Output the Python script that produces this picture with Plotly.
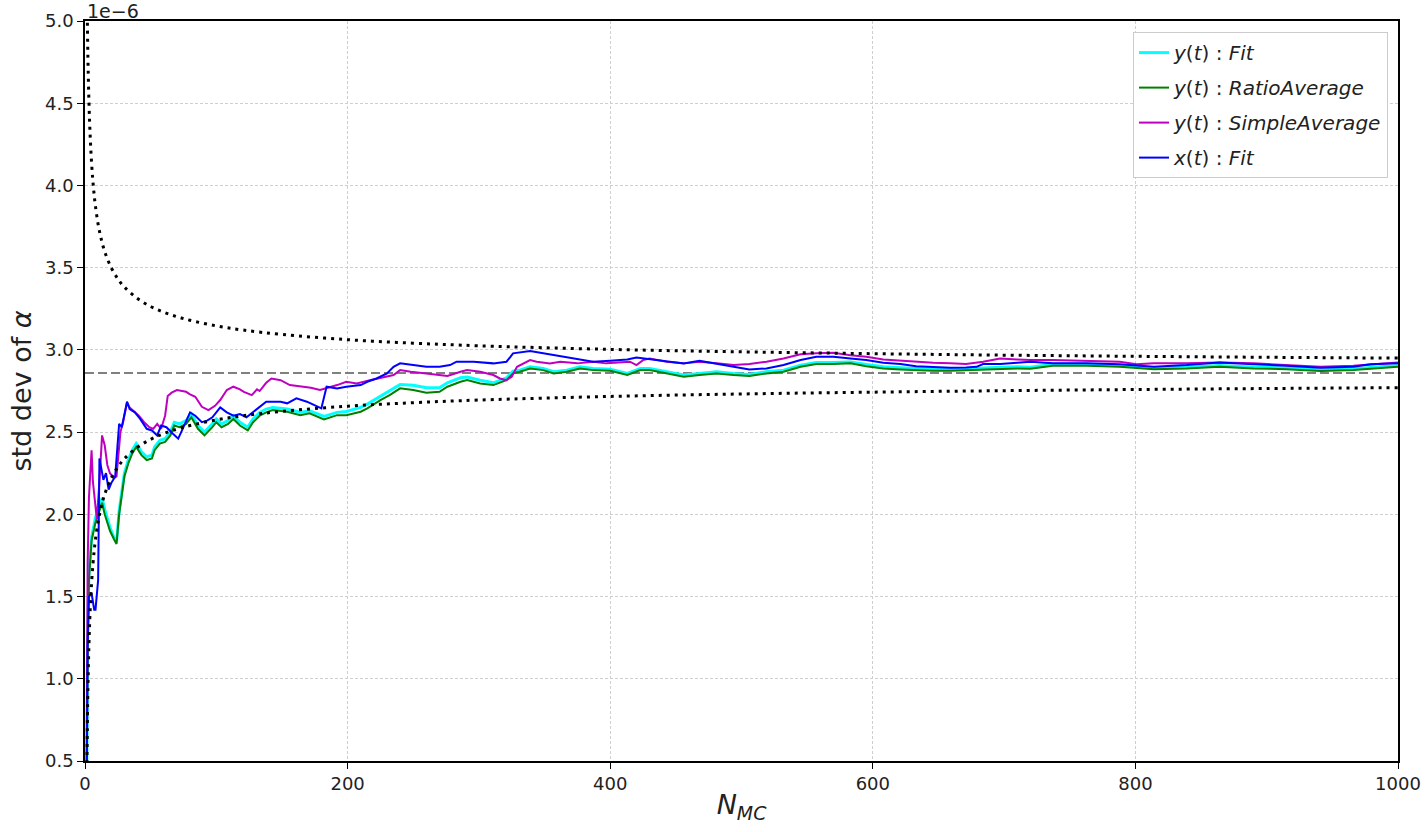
import plotly.graph_objects as go

# values of std dev of alpha in units of 1e-6
REF_LEVEL = 2.86

bound_n = [1, 2, 3, 4, 5, 6, 7, 8, 10, 12, 15, 20, 25, 30, 40, 50, 60, 70, 80, 100,
           120, 150, 200, 250, 300, 400, 500, 600, 700, 800, 900, 1000]
bound_upper = [5.720, 4.882, 4.511, 4.290, 4.139, 4.028, 3.941, 3.871, 3.764, 3.686,
               3.598, 3.500, 3.432, 3.382, 3.312, 3.264, 3.229, 3.202, 3.180, 3.146,
               3.121, 3.094, 3.062, 3.041, 3.025, 3.003, 2.988, 2.977, 2.968, 2.961,
               2.955, 2.950]
bound_lower = [0.0, 0.838, 1.209, 1.430, 1.581, 1.692, 1.779, 1.849, 1.956, 2.034,
               2.122, 2.220, 2.288, 2.338, 2.408, 2.456, 2.491, 2.518, 2.540, 2.574,
               2.599, 2.626, 2.658, 2.679, 2.695, 2.717, 2.732, 2.743, 2.752, 2.759,
               2.765, 2.770]

y_fit = [(1,0.0),(2,1.25),(3,1.65),(5,1.86),(8,1.98),(10,2.03),(13,2.10),(15,2.03),(19,1.92),
         (22,1.86),(24,1.83),(26,2.02),(28,2.13),(30,2.25),(33,2.33),(36,2.39),(39,2.43),(43,2.38),
         (47,2.35),(51,2.36),(53,2.41),(57,2.45),(61,2.46),(65,2.50),(68,2.56),(72,2.55),(77,2.57),
         (81,2.61),(86,2.54),(91,2.50),(97,2.55),(100,2.58),(104,2.55),(109,2.57),(113,2.60),
         (118,2.56),(124,2.53),(128,2.58),(133,2.62),(138,2.64),(143,2.65),(154,2.64),(164,2.62),
         (171,2.63),(182,2.595),(192,2.62),(199,2.625),(210,2.65),(215,2.67),(225,2.72),(232,2.75),
         (240,2.79),(250,2.785),(260,2.77),(270,2.77),(276,2.80),(286,2.83),(291,2.835),(301,2.815),
         (311,2.80),(321,2.83),(326,2.87),(331,2.877),(339,2.897),(349,2.887),(357,2.867),(367,2.877),
         (377,2.897),(387,2.887),(400,2.883),(413,2.857),(423,2.887),(430,2.887),(443,2.867),
         (456,2.847),(468,2.857),(481,2.867),(494,2.857),(506,2.851),(519,2.867),(532,2.877),
         (545,2.907),(557,2.924),(570,2.924),(583,2.926),(595,2.911),(608,2.897),(621,2.891),
         (633,2.887),(646,2.883),(659,2.883),(671,2.887),(684,2.891),(697,2.897),(710,2.897),
         (720,2.895),(737,2.912),(763,2.912),(788,2.905),(814,2.891),(839,2.895),(864,2.905),
         (890,2.895),(915,2.891),(941,2.879),(966,2.885),(991,2.899),(1000,2.905)]

y_ratio_avg = [(1,0.0),(2,1.20),(3,1.60),(5,1.84),(8,1.95),(10,2.00),(13,2.07),(15,2.00),(19,1.90),
               (22,1.85),(24,1.82),(26,2.00),(28,2.11),(30,2.23),(33,2.31),(36,2.37),(39,2.41),
               (43,2.36),(47,2.33),(51,2.34),(53,2.39),(57,2.43),(61,2.44),(65,2.48),(68,2.54),
               (72,2.53),(77,2.55),(81,2.59),(86,2.52),(91,2.48),(97,2.53),(100,2.56),(104,2.53),
               (109,2.55),(113,2.58),(118,2.54),(124,2.51),(128,2.56),(133,2.60),(138,2.62),
               (143,2.634),(154,2.624),(164,2.603),(171,2.614),(182,2.577),(192,2.603),(199,2.603),
               (210,2.624),(215,2.644),(225,2.695),(232,2.725),(240,2.766),(250,2.756),(260,2.739),
               (270,2.745),(276,2.776),(286,2.806),(291,2.816),(301,2.796),(311,2.786),(321,2.816),
               (326,2.857),(331,2.867),(339,2.887),(349,2.877),(357,2.857),(367,2.867),(377,2.887),
               (387,2.877),(400,2.873),(413,2.847),(423,2.877),(430,2.877),(443,2.857),(456,2.837),
               (468,2.847),(481,2.857),(494,2.847),(506,2.841),(519,2.857),(532,2.867),(545,2.897),
               (557,2.914),(570,2.914),(583,2.918),(595,2.901),(608,2.887),(621,2.881),(633,2.877),
               (646,2.873),(659,2.873),(671,2.877),(684,2.881),(697,2.887),(710,2.887),(720,2.885),
               (737,2.904),(763,2.904),(788,2.897),(814,2.883),(839,2.887),(864,2.897),(890,2.887),
               (915,2.883),(941,2.871),(966,2.877),(991,2.891),(1000,2.897)]

y_simple_avg = [(1,0.0),(2,1.70),(3,2.10),(5,2.39),(6,2.20),(8,2.02),(9,1.97),(11,2.20),(13,2.48),
                (15,2.42),(17,2.30),(19,2.25),(22,2.22),(24,2.23),(26,2.40),(27,2.50),(29,2.56),
                (32,2.68),(34,2.65),(37,2.63),(41,2.60),(45,2.56),(49,2.53),(52,2.52),(55,2.55),
                (58,2.52),(61,2.60),(63,2.72),(66,2.74),(70,2.756),(73,2.75),(77,2.745),(80,2.73),
                (84,2.715),(89,2.654),(94,2.634),(99,2.66),(103,2.695),(108,2.756),(113,2.776),
                (118,2.76),(121,2.745),(127,2.725),(131,2.76),(133,2.75),(138,2.80),(142,2.826),
                (149,2.816),(156,2.786),(164,2.776),(172,2.77),(179,2.756),(184,2.766),(192,2.786),
                (199,2.806),(207,2.796),(217,2.816),(230,2.837),(235,2.847),(240,2.877),(248,2.867),
                (260,2.857),(270,2.847),(276,2.841),(286,2.867),(291,2.877),(301,2.867),(311,2.847),
                (316,2.826),(321,2.816),(325,2.837),(329,2.897),(339,2.938),(344,2.928),(354,2.918),
                (362,2.928),(375,2.918),(387,2.928),(397,2.918),(408,2.922),(415,2.928),(420,2.908),
                (425,2.938),(430,2.948),(443,2.928),(456,2.918),(468,2.928),(481,2.918),(494,2.908),
                (506,2.914),(519,2.928),(532,2.948),(545,2.974),(557,2.979),(570,2.983),(583,2.968),
                (595,2.958),(608,2.942),(621,2.934),(633,2.928),(646,2.922),(659,2.918),(671,2.914),
                (684,2.928),(697,2.948),(710,2.942),(720,2.938),(737,2.938),(763,2.932),(788,2.928),
                (801,2.912),(814,2.918),(839,2.918),(864,2.924),(890,2.918),(915,2.908),(941,2.897),
                (966,2.904),(991,2.918),(1000,2.924)]

x_fit = [(1,0.0),(2,1.20),(3,1.50),(5,1.52),(7,1.42),(8,1.42),(10,1.60),(11,2.34),(14,2.21),
         (16,2.25),(18,2.15),(20,2.19),(23,2.23),(25,2.41),(26,2.55),(28,2.53),(29,2.57),(32,2.685),
         (34,2.64),(38,2.62),(42,2.58),(47,2.52),(51,2.51),(55,2.48),(58,2.54),(62,2.53),(67,2.49),
         (71,2.46),(75,2.53),(80,2.62),(84,2.60),(89,2.56),(93,2.57),(97,2.59),(103,2.65),(108,2.62),
         (113,2.60),(118,2.61),(123,2.59),(128,2.62),(133,2.65),(138,2.685),(149,2.685),(154,2.675),
         (161,2.705),(169,2.685),(180,2.644),(184,2.776),(192,2.766),(199,2.776),(210,2.786),
         (215,2.806),(222,2.826),(230,2.857),(235,2.897),(240,2.918),(250,2.908),(260,2.897),
         (270,2.897),(278,2.908),(283,2.928),(296,2.928),(311,2.918),(321,2.928),(324,2.958),
         (326,2.979),(339,2.993),(349,2.979),(362,2.962),(375,2.942),(387,2.928),(400,2.934),
         (413,2.942),(420,2.954),(433,2.942),(446,2.928),(456,2.918),(468,2.934),(481,2.914),
         (494,2.897),(506,2.881),(519,2.887),(532,2.908),(545,2.938),(557,2.958),(570,2.958),
         (583,2.948),(595,2.938),(608,2.922),(621,2.914),(633,2.901),(646,2.897),(659,2.891),
         (671,2.893),(679,2.897),(684,2.914),(697,2.914),(710,2.922),(720,2.928),(737,2.918),
         (763,2.918),(788,2.912),(801,2.904),(814,2.897),(839,2.908),(852,2.918),(864,2.924),
         (890,2.912),(915,2.904),(941,2.891),(966,2.897),(979,2.912),(1000,2.918)]

x_ticks = [0, 200, 400, 600, 800, 1000]
y_ticks = [0.5, 1.0, 1.5, 2.0, 2.5, 3.0, 3.5, 4.0, 4.5, 5.0]

series = [
    ("<i>y</i>(<i>t</i>) : <i>Fit</i>", y_fit, "#00FFFF", 3),
    ("<i>y</i>(<i>t</i>) : <i>RatioAverage</i>", y_ratio_avg, "#008000", 2),
    ("<i>y</i>(<i>t</i>) : <i>SimpleAverage</i>", y_simple_avg, "#BF00BF", 2),
    ("<i>x</i>(<i>t</i>) : <i>Fit</i>", x_fit, "#0000FF", 2),
]

fig = go.Figure()

fig.add_trace(go.Scatter(x=[0, 1000], y=[REF_LEVEL, REF_LEVEL], mode="lines",
                         line=dict(color="#808080", width=2, dash="9px,4px"),
                         showlegend=False, hoverinfo="skip"))

for i, (name, pts, color, w) in enumerate(series):
    fig.add_trace(go.Scatter(x=[p[0] for p in pts], y=[p[1] for p in pts], mode="lines",
                             name=name, legendgroup=f"g{i}",
                             line=dict(color=color, width=w)))

for yb in (bound_upper, bound_lower):
    fig.add_trace(go.Scatter(x=bound_n, y=yb, mode="lines", line_shape="spline",
                             line=dict(color="black", width=3, dash="3px,5px"),
                             showlegend=False, hoverinfo="skip"))

axis_common = dict(showgrid=True, gridcolor="#cfcfcf", gridwidth=1, griddash="3px,2px",
                   showline=True, mirror=True, linecolor="black", linewidth=1.5,
                   ticks="outside", ticklen=6, tickwidth=1.3, tickcolor="black",
                   tickfont=dict(size=18, color="#222222", family="DejaVu Sans"),
                   zeroline=False, automargin=False, ticklabeloverflow="allow")

fig.update_layout(
    width=1425, height=832,
    margin=dict(l=85, r=27, t=21, b=71),
    paper_bgcolor="white", plot_bgcolor="white",
    font=dict(family="DejaVu Sans", color="#222222"),
    xaxis=dict(range=[0, 1000], tickvals=x_ticks,
               title=dict(text="<i>N</i><sub><i>MC</i></sub>", font=dict(size=27), standoff=2),
               **axis_common),
    yaxis=dict(range=[0.5, 5.0], tickvals=y_ticks, tickformat=".1f",
               title=dict(text="std dev of <i>α</i>", font=dict(size=27), standoff=6),
               **axis_common),
    legend=dict(x=0.9924, y=0.985, xanchor="right", yanchor="top",
                bgcolor="white", bordercolor="#cccccc", borderwidth=1,
                font=dict(size=20, family="DejaVu Sans", color="#222222"),
                tracegroupgap=6, traceorder="grouped"),
    annotations=[dict(text="1e\u22126", xref="paper", yref="paper", x=0, y=1,
                      xanchor="left", yanchor="bottom", showarrow=False,
                      font=dict(size=19, color="#222222"), yshift=-3)],
)

fig.write_html("out.html")
